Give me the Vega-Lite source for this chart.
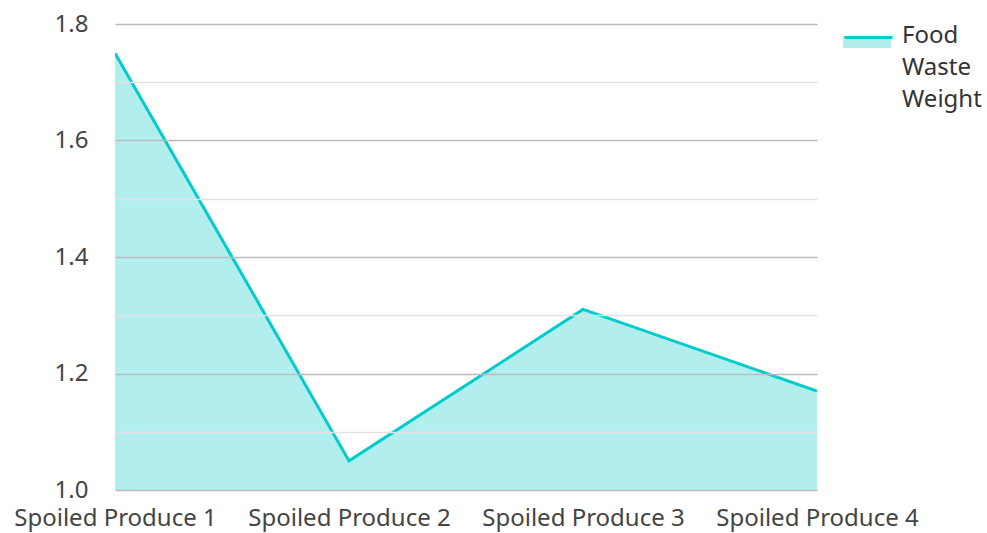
{
  "$schema": "https://vega.github.io/schema/vega-lite/v6.json",
  "width": 702,
  "height": 466,
  "autosize": "none",
  "padding": {"left": 115, "top": 24, "right": 170, "bottom": 43},
  "config": {
    "view": {"stroke": null},
    "font": "Noto Sans",
    "axis": {"labelFont": "Noto Sans", "labelFontSize": 24, "labelColor": "#444444", "labelLimit": 400},
    "legend": {"labelFont": "Noto Sans", "labelFontSize": 24, "labelColor": "#333333"}
  },
  "data": {
    "values": [
      {"item": "Spoiled Produce 1", "weight": 1.75, "series": "Food Waste Weight"},
      {"item": "Spoiled Produce 2", "weight": 1.05, "series": "Food Waste Weight"},
      {"item": "Spoiled Produce 3", "weight": 1.31, "series": "Food Waste Weight"},
      {"item": "Spoiled Produce 4", "weight": 1.17, "series": "Food Waste Weight"}
    ]
  },
  "encoding": {
    "x": {
      "field": "item",
      "type": "ordinal",
      "scale": {"type": "point", "padding": 0},
      "axis": {"title": null, "labelAngle": 0, "domain": false, "ticks": false, "grid": false, "labelPadding": 16, "labelOverlap": false}
    },
    "y": {
      "field": "weight",
      "type": "quantitative",
      "scale": {"domain": [1.0, 1.8], "nice": false, "zero": false},
      "axis": {
        "title": null,
        "values": [1.0, 1.1, 1.2, 1.3, 1.4, 1.5, 1.6, 1.7, 1.8],
        "labelExpr": "round(datum.value*10)%2==0 ? format(datum.value, '.1f') : ''",
        "domain": false,
        "ticks": false,
        "labelPadding": 27,
        "zindex": 1,
        "gridColor": {"condition": {"test": "round(datum.value*10)%2==0", "value": "#bcbcbc"}, "value": "#e2e2e2"},
        "gridWidth": 1.3
      }
    }
  },
  "layer": [
    {
      "mark": {"type": "area", "fillOpacity": 0.3, "clip": true},
      "encoding": {
        "fill": {
          "field": "series",
          "type": "nominal",
          "scale": {"range": ["#00c8c8"]},
          "legend": {
            "title": null,
            "orient": "none",
            "legendX": 728,
            "legendY": -12,
            "symbolType": "M-1,0L1,0L1,0.5L-1,0.5Z",
            "symbolSize": 2304,
            "symbolOpacity": 0.3,
            "symbolStrokeWidth": 0,
            "labelOffset": 11,
            "labelExpr": "split(datum.label, ' ')",
            "encode": {"labels": {"update": {"lineHeight": {"value": 32}}}}
          }
        }
      }
    },
    {
      "mark": {"type": "line", "strokeWidth": 3, "clip": true},
      "encoding": {
        "stroke": {
          "field": "series",
          "type": "nominal",
          "scale": {"range": ["#00cccc"]},
          "legend": {
            "title": null,
            "orient": "none",
            "legendX": 728,
            "legendY": -12,
            "symbolType": "stroke",
            "symbolSize": 2304,
            "symbolStrokeWidth": 3,
            "labelOffset": 11,
            "labelExpr": "''"
          }
        }
      }
    }
  ]
}
